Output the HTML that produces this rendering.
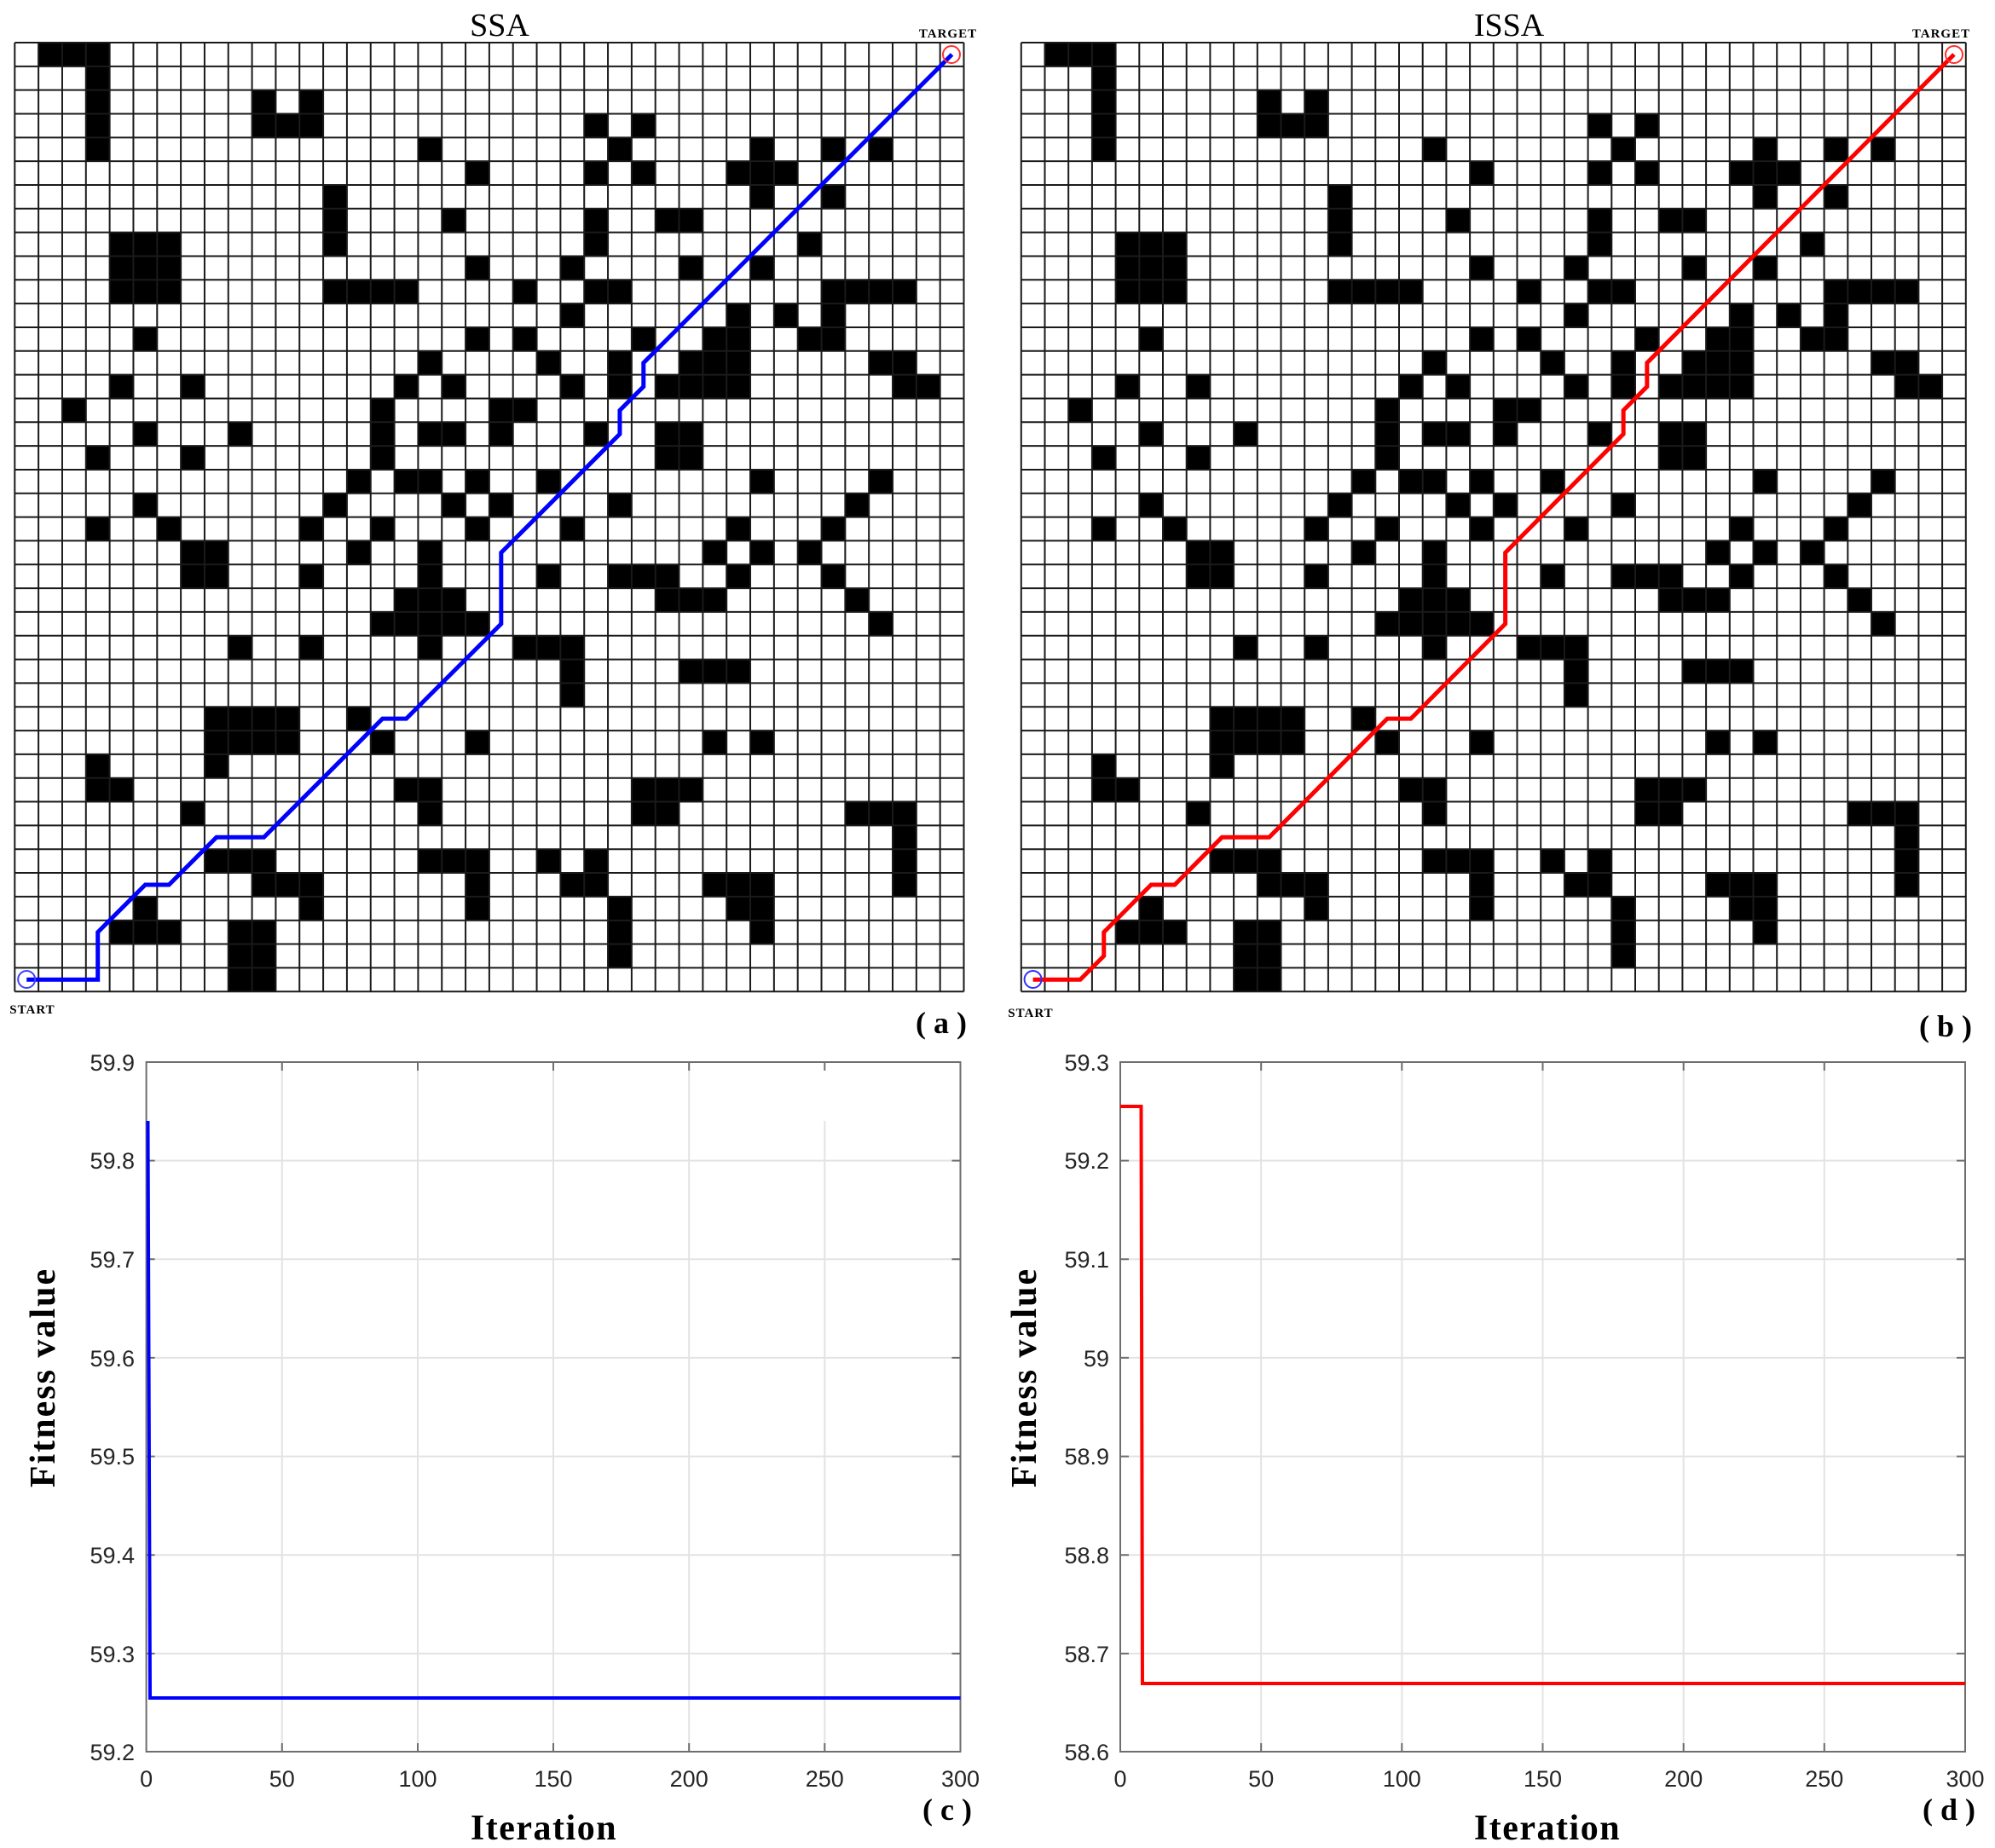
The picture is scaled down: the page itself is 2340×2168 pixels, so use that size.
<!DOCTYPE html>
<html><head><meta charset="utf-8"><style>
html,body{margin:0;padding:0;background:#fff;}
svg{display:block;}
.gl{stroke:#1a1a1a;stroke-width:2;fill:none;vector-effect:non-scaling-stroke;}
.tk{font-family:"Liberation Sans",Arial,sans-serif;font-size:27px;fill:#262626;}
.lab{font-family:"Liberation Serif",serif;font-weight:bold;fill:#000;}
.grd{stroke:#e3e3e3;stroke-width:2;}
.ax{stroke:#6e6e6e;stroke-width:2;fill:none;}
</style></head><body>
<svg width="2340" height="2168" viewBox="0 0 2340 2168" xmlns="http://www.w3.org/2000/svg">
<defs>
<g id="obs" fill="#000">
<rect x="1" y="0" width="3" height="1"/>
<rect x="3" y="1" width="1" height="4"/>
<rect x="10" y="2" width="1" height="1"/><rect x="12" y="2" width="1" height="1"/>
<rect x="10" y="3" width="3" height="1"/><rect x="24" y="3" width="1" height="1"/><rect x="26" y="3" width="1" height="1"/>
<rect x="17" y="4" width="1" height="1"/><rect x="25" y="4" width="1" height="1"/><rect x="31" y="4" width="1" height="1"/><rect x="34" y="4" width="1" height="1"/><rect x="36" y="4" width="1" height="1"/>
<rect x="19" y="5" width="1" height="1"/><rect x="24" y="5" width="1" height="1"/><rect x="26" y="5" width="1" height="1"/><rect x="30" y="5" width="3" height="1"/>
<rect x="13" y="6" width="1" height="3"/><rect x="31" y="6" width="1" height="1"/><rect x="34" y="6" width="1" height="1"/>
<rect x="18" y="7" width="1" height="1"/><rect x="24" y="7" width="1" height="2"/><rect x="27" y="7" width="2" height="1"/>
<rect x="4" y="8" width="3" height="3"/><rect x="33" y="8" width="1" height="1"/>
<rect x="19" y="9" width="1" height="1"/><rect x="23" y="9" width="1" height="1"/><rect x="28" y="9" width="1" height="1"/><rect x="31" y="9" width="1" height="1"/>
<rect x="13" y="10" width="4" height="1"/><rect x="21" y="10" width="1" height="1"/><rect x="24" y="10" width="2" height="1"/><rect x="34" y="10" width="4" height="1"/>
<rect x="23" y="11" width="1" height="1"/><rect x="30" y="11" width="1" height="1"/><rect x="32" y="11" width="1" height="1"/><rect x="34" y="11" width="1" height="1"/>
<rect x="5" y="12" width="1" height="1"/><rect x="19" y="12" width="1" height="1"/><rect x="21" y="12" width="1" height="1"/><rect x="26" y="12" width="1" height="1"/><rect x="29" y="12" width="2" height="1"/><rect x="33" y="12" width="2" height="1"/>
<rect x="17" y="13" width="1" height="1"/><rect x="22" y="13" width="1" height="1"/><rect x="25" y="13" width="1" height="2"/><rect x="28" y="13" width="3" height="1"/><rect x="36" y="13" width="2" height="1"/>
<rect x="4" y="14" width="1" height="1"/><rect x="7" y="14" width="1" height="1"/><rect x="16" y="14" width="1" height="1"/><rect x="18" y="14" width="1" height="1"/><rect x="23" y="14" width="1" height="1"/><rect x="27" y="14" width="4" height="1"/><rect x="37" y="14" width="2" height="1"/>
<rect x="2" y="15" width="1" height="1"/><rect x="15" y="15" width="1" height="3"/><rect x="20" y="15" width="2" height="1"/>
<rect x="5" y="16" width="1" height="1"/><rect x="9" y="16" width="1" height="1"/><rect x="17" y="16" width="2" height="1"/><rect x="20" y="16" width="1" height="1"/><rect x="24" y="16" width="1" height="1"/><rect x="27" y="16" width="2" height="2"/>
<rect x="3" y="17" width="1" height="1"/><rect x="7" y="17" width="1" height="1"/>
<rect x="14" y="18" width="1" height="1"/><rect x="16" y="18" width="2" height="1"/><rect x="19" y="18" width="1" height="1"/><rect x="22" y="18" width="1" height="1"/><rect x="31" y="18" width="1" height="1"/><rect x="36" y="18" width="1" height="1"/>
<rect x="5" y="19" width="1" height="1"/><rect x="13" y="19" width="1" height="1"/><rect x="18" y="19" width="1" height="1"/><rect x="20" y="19" width="1" height="1"/><rect x="25" y="19" width="1" height="1"/><rect x="35" y="19" width="1" height="1"/>
<rect x="3" y="20" width="1" height="1"/><rect x="6" y="20" width="1" height="1"/><rect x="12" y="20" width="1" height="1"/><rect x="15" y="20" width="1" height="1"/><rect x="19" y="20" width="1" height="1"/><rect x="23" y="20" width="1" height="1"/><rect x="30" y="20" width="1" height="1"/><rect x="34" y="20" width="1" height="1"/>
<rect x="7" y="21" width="2" height="2"/><rect x="14" y="21" width="1" height="1"/><rect x="17" y="21" width="1" height="2"/><rect x="29" y="21" width="1" height="1"/><rect x="31" y="21" width="1" height="1"/><rect x="33" y="21" width="1" height="1"/>
<rect x="12" y="22" width="1" height="1"/><rect x="22" y="22" width="1" height="1"/><rect x="25" y="22" width="3" height="1"/><rect x="30" y="22" width="1" height="1"/><rect x="34" y="22" width="1" height="1"/>
<rect x="16" y="23" width="3" height="1"/><rect x="27" y="23" width="3" height="1"/><rect x="35" y="23" width="1" height="1"/>
<rect x="15" y="24" width="5" height="1"/><rect x="36" y="24" width="1" height="1"/>
<rect x="9" y="25" width="1" height="1"/><rect x="12" y="25" width="1" height="1"/><rect x="17" y="25" width="1" height="1"/><rect x="21" y="25" width="3" height="1"/>
<rect x="23" y="26" width="1" height="2"/><rect x="28" y="26" width="3" height="1"/>
<rect x="8" y="28" width="4" height="2"/><rect x="14" y="28" width="1" height="1"/>
<rect x="15" y="29" width="1" height="1"/><rect x="19" y="29" width="1" height="1"/><rect x="29" y="29" width="1" height="1"/><rect x="31" y="29" width="1" height="1"/>
<rect x="3" y="30" width="1" height="2"/><rect x="8" y="30" width="1" height="1"/>
<rect x="4" y="31" width="1" height="1"/><rect x="16" y="31" width="2" height="1"/><rect x="26" y="31" width="3" height="1"/>
<rect x="7" y="32" width="1" height="1"/><rect x="17" y="32" width="1" height="1"/><rect x="26" y="32" width="2" height="1"/><rect x="35" y="32" width="3" height="1"/>
<rect x="37" y="33" width="1" height="3"/>
<rect x="8" y="34" width="3" height="1"/><rect x="17" y="34" width="3" height="1"/><rect x="22" y="34" width="1" height="1"/><rect x="24" y="34" width="1" height="1"/>
<rect x="10" y="35" width="3" height="1"/><rect x="19" y="35" width="1" height="2"/><rect x="23" y="35" width="2" height="1"/><rect x="29" y="35" width="3" height="1"/>
<rect x="5" y="36" width="1" height="1"/><rect x="12" y="36" width="1" height="1"/><rect x="25" y="36" width="1" height="3"/><rect x="30" y="36" width="2" height="1"/>
<rect x="4" y="37" width="3" height="1"/><rect x="9" y="37" width="2" height="3"/><rect x="31" y="37" width="1" height="1"/>
</g>
<path id="gridl" class="gl" d="M0 0V40M1 0V40M2 0V40M3 0V40M4 0V40M5 0V40M6 0V40M7 0V40M8 0V40M9 0V40M10 0V40M11 0V40M12 0V40M13 0V40M14 0V40M15 0V40M16 0V40M17 0V40M18 0V40M19 0V40M20 0V40M21 0V40M22 0V40M23 0V40M24 0V40M25 0V40M26 0V40M27 0V40M28 0V40M29 0V40M30 0V40M31 0V40M32 0V40M33 0V40M34 0V40M35 0V40M36 0V40M37 0V40M38 0V40M39 0V40M40 0V40M0 0H40M0 1H40M0 2H40M0 3H40M0 4H40M0 5H40M0 6H40M0 7H40M0 8H40M0 9H40M0 10H40M0 11H40M0 12H40M0 13H40M0 14H40M0 15H40M0 16H40M0 17H40M0 18H40M0 19H40M0 20H40M0 21H40M0 22H40M0 23H40M0 24H40M0 25H40M0 26H40M0 27H40M0 28H40M0 29H40M0 30H40M0 31H40M0 32H40M0 33H40M0 34H40M0 35H40M0 36H40M0 37H40M0 38H40M0 39H40M0 40H40"/>
</defs>

<!-- Left grid -->
<g transform="translate(17.3,50) scale(27.83)">
<use href="#obs"/>
<use href="#gridl"/>
<path d="M0.5 39.5L3.5 39.5L3.5 37.5L5.5 35.5L6.5 35.5L8.5 33.5L10.5 33.5L15.5 28.5L16.5 28.5L20.5 24.5L20.5 21.5L25.5 16.5L25.5 15.5L26.5 14.5L26.5 13.5L39.5 0.5" fill="none" stroke="#0000ff" stroke-width="5" stroke-linejoin="miter" vector-effect="non-scaling-stroke"/>
</g>
<circle cx="31.2" cy="1149" r="10" fill="none" stroke="#4040ff" stroke-width="2"/>
<circle cx="1116" cy="64" r="10" fill="none" stroke="#ff3030" stroke-width="2"/>

<!-- Right grid -->
<g transform="translate(1197.8,50) scale(27.7,27.83)">
<use href="#obs"/>
<use href="#gridl"/>
<path d="M0.5 39.5L2.5 39.5L3.5 38.5L3.5 37.5L5.5 35.5L6.5 35.5L8.5 33.5L10.5 33.5L15.5 28.5L16.5 28.5L20.5 24.5L20.5 21.5L25.5 16.5L25.5 15.5L26.5 14.5L26.5 13.5L39.5 0.5" fill="none" stroke="#ff0000" stroke-width="5" vector-effect="non-scaling-stroke"/>
</g>
<circle cx="1211.6" cy="1149" r="10" fill="none" stroke="#3030ff" stroke-width="2"/>
<circle cx="2292" cy="64" r="10" fill="none" stroke="#ff3030" stroke-width="2"/>

<!-- Titles and labels -->
<text x="586" y="42" text-anchor="middle" font-family="Liberation Serif,serif" font-size="38">SSA</text>
<text x="1770" y="42" text-anchor="middle" font-family="Liberation Serif,serif" font-size="38">ISSA</text>
<text class="lab" x="1112" y="44" text-anchor="middle" font-size="15" letter-spacing="1">TARGET</text>
<text class="lab" x="2277" y="44" text-anchor="middle" font-size="15" letter-spacing="1">TARGET</text>
<text class="lab" x="38" y="1189" text-anchor="middle" font-size="15" letter-spacing="1">START</text>
<text class="lab" x="1209" y="1193" text-anchor="middle" font-size="15" letter-spacing="1">START</text>
<text class="lab" x="1104" y="1212" text-anchor="middle" font-size="36" xml:space="preserve">( a )</text>
<text class="lab" x="2282" y="1216" text-anchor="middle" font-size="36" xml:space="preserve">( b )</text>
<text class="lab" x="1111" y="2135" text-anchor="middle" font-size="36" xml:space="preserve">( c )</text>
<text class="lab" x="2286" y="2135" text-anchor="middle" font-size="36" xml:space="preserve">( d )</text>

<!-- Chart c -->
<g>
<path class="grd" d="M330.8 1246V2055M490 1246V2055M649 1246V2055M808.2 1246V2055M967.3 1315V2055M171.6 1361.6H1126.5M171.6 1477.3H1126.5M171.6 1592.9H1126.5M171.6 1708.6H1126.5M171.6 1824.3H1126.5M171.6 1939.9H1126.5"/>
<rect class="ax" x="171.6" y="1246" width="954.9" height="809"/>
<path class="ax" d="M330.8 2055v-10M490 2055v-10M649 2055v-10M808.2 2055v-10M967.3 2055v-10M330.8 1246v10M490 1246v10M649 1246v10M808.2 1246v10M967.3 1246v10M171.6 1361.6h10M171.6 1477.3h10M171.6 1592.9h10M171.6 1708.6h10M171.6 1824.3h10M171.6 1939.9h10M1126.5 1361.6h-10M1126.5 1477.3h-10M1126.5 1592.9h-10M1126.5 1708.6h-10M1126.5 1824.3h-10M1126.5 1939.9h-10"/>
<path d="M173.5 1315L176 1992L1126.5 1992" fill="none" stroke="#0000ff" stroke-width="4"/>
<g class="tk" text-anchor="end">
<text x="158" y="1256">59.9</text><text x="158" y="1371">59.8</text><text x="158" y="1487">59.7</text><text x="158" y="1603">59.6</text><text x="158" y="1718">59.5</text><text x="158" y="1834">59.4</text><text x="158" y="1950">59.3</text><text x="158" y="2065">59.2</text>
</g>
<g class="tk" text-anchor="middle">
<text x="171.6" y="2096">0</text><text x="330.8" y="2096">50</text><text x="490" y="2096">100</text><text x="649" y="2096">150</text><text x="808.2" y="2096">200</text><text x="967.3" y="2096">250</text><text x="1126.5" y="2096">300</text>
</g>
<text class="lab" x="638" y="2158" text-anchor="middle" font-size="42" letter-spacing="1.5">Iteration</text>
<text class="lab" transform="translate(64,1616) rotate(-90)" text-anchor="middle" font-size="42" letter-spacing="2">Fitness value</text>
</g>

<!-- Chart d -->
<g>
<path class="grd" d="M1479.2 1246V2055M1644.3 1246V2055M1809.5 1246V2055M1974.7 1246V2055M2139.8 1246V2055M1314 1361.6H2305M1314 1477.3H2305M1314 1592.9H2305M1314 1708.6H2305M1314 1824.3H2305M1314 1939.9H2305"/>
<rect class="ax" x="1314" y="1246" width="991" height="809"/>
<path class="ax" d="M1479.2 2055v-10M1644.3 2055v-10M1809.5 2055v-10M1974.7 2055v-10M2139.8 2055v-10M1479.2 1246v10M1644.3 1246v10M1809.5 1246v10M1974.7 1246v10M2139.8 1246v10M1314 1361.6h10M1314 1477.3h10M1314 1592.9h10M1314 1708.6h10M1314 1824.3h10M1314 1939.9h10M2305 1361.6h-10M2305 1477.3h-10M2305 1592.9h-10M2305 1708.6h-10M2305 1824.3h-10M2305 1939.9h-10"/>
<path d="M1314 1298L1338.5 1298L1340 1975L2305 1975" fill="none" stroke="#ff0000" stroke-width="4"/>
<g class="tk" text-anchor="end">
<text x="1301" y="1256">59.3</text><text x="1301" y="1371">59.2</text><text x="1301" y="1487">59.1</text><text x="1301" y="1603">59</text><text x="1301" y="1718">58.9</text><text x="1301" y="1834">58.8</text><text x="1301" y="1950">58.7</text><text x="1301" y="2065">58.6</text>
</g>
<g class="tk" text-anchor="middle">
<text x="1314" y="2096">0</text><text x="1479.2" y="2096">50</text><text x="1644.3" y="2096">100</text><text x="1809.5" y="2096">150</text><text x="1974.7" y="2096">200</text><text x="2139.8" y="2096">250</text><text x="2305" y="2096">300</text>
</g>
<text class="lab" x="1815" y="2158" text-anchor="middle" font-size="42" letter-spacing="1.5">Iteration</text>
<text class="lab" transform="translate(1215,1616) rotate(-90)" text-anchor="middle" font-size="42" letter-spacing="2">Fitness value</text>
</g>
</svg>
</body></html>
